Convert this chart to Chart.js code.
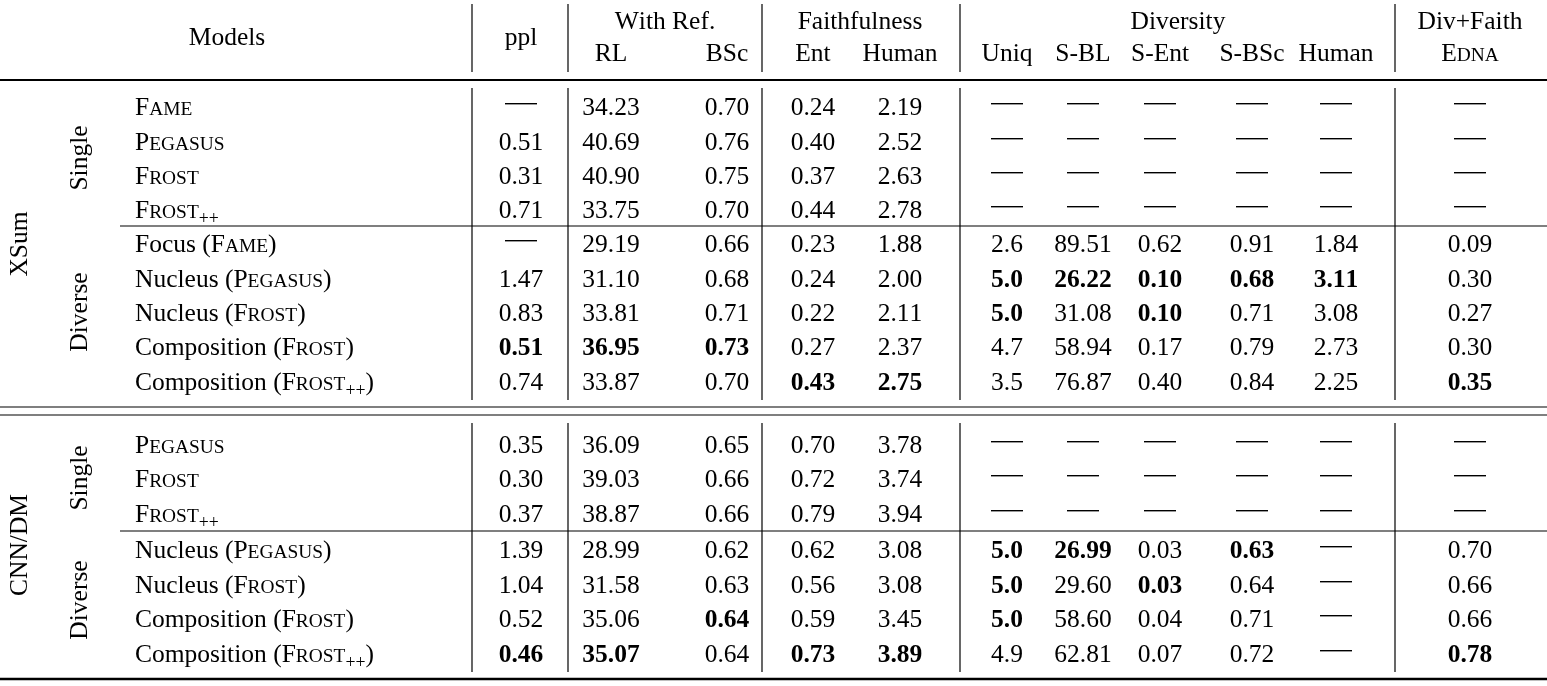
<!DOCTYPE html>
<html><head><meta charset="utf-8">
<script src="https://cdn.jsdelivr.net/npm/chart.js@4/dist/chart.umd.min.js"></script>
<style>html,body{margin:0;padding:0;background:#fff}#w{width:1547px;height:686px}</style>
</head><body><div id="w"><canvas id="c"></canvas></div>
<script>
const D='—';
// Markup: {..} small caps, _++ subscript
const models=['{Fame}','{Pegasus}','{Frost}','{Frost}_++','Focus ({Fame})','Nucleus ({Pegasus})','Nucleus ({Frost})','Composition ({Frost})','Composition ({Frost}_++)',
 '{Pegasus}','{Frost}','{Frost}_++','Nucleus ({Pegasus})','Nucleus ({Frost})','Composition ({Frost})','Composition ({Frost}_++)'];
// '*' prefix = bold
const ppl=[D,'0.51','0.31','0.71',D,'1.47','0.83','*0.51','0.74','0.35','0.30','0.37','1.39','1.04','0.52','*0.46'];
const rl=['34.23','40.69','40.90','33.75','29.19','31.10','33.81','*36.95','33.87','36.09','39.03','38.87','28.99','31.58','35.06','*35.07'];
const bsc=['0.70','0.76','0.75','0.70','0.66','0.68','0.71','*0.73','0.70','0.65','0.66','0.66','0.62','0.63','*0.64','0.64'];
const ent=['0.24','0.40','0.37','0.44','0.23','0.24','0.22','0.27','*0.43','0.70','0.72','0.79','0.62','0.56','0.59','*0.73'];
const human=['2.19','2.52','2.63','2.78','1.88','2.00','2.11','2.37','*2.75','3.78','3.74','3.94','3.08','3.08','3.45','*3.89'];
const uniq=[D,D,D,D,'2.6','*5.0','*5.0','4.7','3.5',D,D,D,'*5.0','*5.0','*5.0','4.9'];
const sbl=[D,D,D,D,'89.51','*26.22','31.08','58.94','76.87',D,D,D,'*26.99','29.60','58.60','62.81'];
const sent=[D,D,D,D,'0.62','*0.10','*0.10','0.17','0.40',D,D,D,'0.03','*0.03','0.04','0.07'];
const sbsc=[D,D,D,D,'0.91','*0.68','0.71','0.79','0.84',D,D,D,'*0.63','0.64','0.71','0.72'];
const dhuman=[D,D,D,D,'1.84','*3.11','3.08','2.73','2.25',D,D,D,D,D,D,D];
const edna=[D,D,D,D,'0.09','0.30','0.27','0.30','*0.35',D,D,D,'0.70','0.66','0.66','*0.78'];
const headTop=[['Models',227,36],['ppl',521,36],['With Ref.',665,20],['Faithfulness',860,20],['Diversity',1178,20],['Div+Faith',1470,20]];
const headSub=['RL','BSc','Ent','Human','Uniq','S-BL','S-Ent','S-BSc','Human','{Edna}'];

// layout (positions kept separate from data)
const rowY=[106,141,175,209,243,278,312,346,381,444,478,513,549,584,618,653];
const colX=[521,611,727,813,900,1007,1083,1160,1252,1336,1470];
const cols=[ppl,rl,bsc,ent,human,uniq,sbl,sent,sbsc,dhuman,edna];
const FS=25.5, FAM='"Liberation Serif","DejaVu Serif",serif';

function parse(s){const out=[];let sc=false;for(let i=0;i<s.length;i++){const c=s[i];
 if(c==='{'){sc=true;continue}if(c==='}'){sc=false;continue}
 if(c==='_'){out.push({t:'++',sub:true});i+=2;continue}
 if(sc&&c!==c.toUpperCase()){out.push({t:c.toUpperCase(),small:true})}else out.push({t:c});}
 return out;}
function drawRich(ctx,s,x,y,align,bold){
 const segs=parse(s);const b=bold?'bold ':'';
 const fontOf=g=>b+(g.sub?(FS*0.7).toFixed(1):g.small?(FS*0.76).toFixed(1):FS)+'px '+FAM;
 let w=0;segs.forEach(g=>{ctx.font=fontOf(g);g.w=ctx.measureText(g.t).width;w+=g.w});
 let cx=align==='center'?x-w/2:x;
 ctx.textAlign='left';ctx.textBaseline='alphabetic';
 segs.forEach(g=>{ctx.font=fontOf(g);ctx.fillText(g.t,cx,y+FS*0.34+(g.sub?6:0));cx+=g.w});}

const tablePlugin={id:'table',afterDraw(ch){
 const ctx=ch.ctx,X=v=>ch.scales.x.getPixelForValue(v),Y=v=>ch.scales.y.getPixelForValue(v);
 ctx.save();ctx.fillStyle='#000';ctx.strokeStyle='#000';
 const hl=(x1,x2,y,w)=>{ctx.lineWidth=w;ctx.beginPath();ctx.moveTo(X(x1),Y(y));ctx.lineTo(X(x2),Y(y));ctx.stroke()};
 const vl=(x,y1,y2)=>{ctx.lineWidth=1.2;ctx.beginPath();ctx.moveTo(X(x),Y(y1));ctx.lineTo(X(x),Y(y2));ctx.stroke()};
 hl(0,1547,80,2);hl(120,1547,226,1.2);hl(0,1547,407,1.2);hl(0,1547,415,1.2);hl(120,1547,531,1.2);hl(0,1547,679,2.4);
 [472,568,762,960,1395].forEach(x=>{vl(x,4,72);vl(x,88,400);vl(x,423,672)});
 headTop.forEach(h=>drawRich(ctx,h[0],X(h[1]),Y(h[2]),'center',false));
 [611,727,813,900,1007,1083,1160,1252,1336,1470].forEach((x,i)=>drawRich(ctx,headSub[i],X(x),Y(52),'center',false));
 rowY.forEach((y,r)=>{drawRich(ctx,models[r],X(135),Y(y),'left',false);
  cols.forEach((c,k)=>{let v=c[r],b=false;if(v[0]==='*'){b=true;v=v.slice(1)}
   if(v===D){ctx.fillRect(X(colX[k])-16,Y(y)-3,32,1.4)}else drawRich(ctx,v,X(colX[k]),Y(y),'center',b)})});
 const vt=(t,x,y)=>{ctx.save();ctx.translate(X(x),Y(y));ctx.rotate(-Math.PI/2);drawRich(ctx,t,0,0,'center',false);ctx.restore()};
 vt('XSum',18,244);vt('Single',78,158);vt('Diverse',78,312);vt('CNN/DM',18,545);vt('Single',78,478);vt('Diverse',78,600);
 ctx.restore();}};

new Chart(document.getElementById('c'),{type:'scatter',
 data:{datasets:[{data:[],pointRadius:0}]},
 options:{responsive:true,maintainAspectRatio:false,animation:false,layout:{padding:0},
  plugins:{legend:{display:false},tooltip:{enabled:false}},
  scales:{x:{type:'linear',min:0,max:1547,display:false},y:{type:'linear',min:0,max:686,reverse:true,display:false}}},
 plugins:[tablePlugin]});
</script></body></html>
